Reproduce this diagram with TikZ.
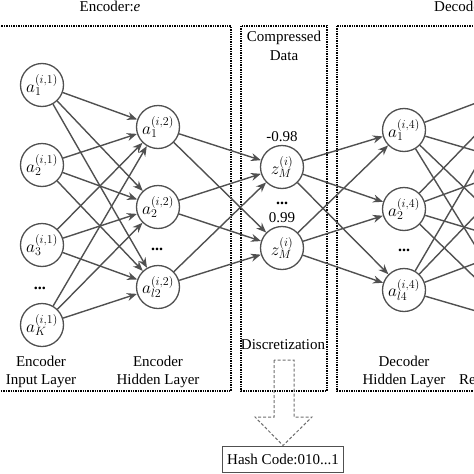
\documentclass[tikz,border=0pt]{standalone}
\usepackage{fontspec}
\setmainfont{Liberation Serif}
\usetikzlibrary{arrows.meta}
\definecolor{linegray}{RGB}{80,80,80}
\definecolor{arrowgray}{RGB}{110,110,110}
\begin{document}
\begin{tikzpicture}[x=1pt,y=-1pt,font=\fontsize{15}{18.5}\selectfont]
\useasboundingbox (0,0) rectangle (474,474);
\clip (0,0) rectangle (474,474);
% Pixel-like coordinates, y grows downwards. Output layer sits past the right edge.
\tikzset{
  unit/.style={circle,draw=linegray,fill=white,line width=1.3pt,minimum size=43pt,inner sep=0pt,font=\fontsize{17.5}{17.5}\selectfont},
  conn/.style={linegray,line width=1.4pt,-{Stealth[length=10pt,width=8pt]}},
  plain/.style={linegray,line width=1.4pt},
  part/.style={densely dotted,line width=1.4pt},
  lab/.style={align=center,inner sep=0pt},
  more/.style={font=\fontsize{16}{16}\bfseries\selectfont,inner sep=0pt}
}

% Part boxes and titles.
\draw[part] (-6,26) rectangle (231,391);
\draw[part] (241,26) rectangle (327,391);
\draw[part] (337,26) rectangle (580,391);
\node[lab] (enct) at (110,6) {Encoder:\textit{e}};
\node[lab,anchor=west] (dect) at (434,6) {Decoder:\textit{d}};
\node[lab] (cmpt) at (284,46) {Compressed\\Data};

% Units.
\foreach \k/\y/\s in {1/85/1,2/165/2,3/245/3,4/325/K}
  \node[unit] (in\k) at (42,\y) {$a_{\s}^{(i,1)}$};
\foreach \k/\y/\s in {1/127/1,2/207/2,3/287/l2}
  \node[unit] (eh\k) at (158,\y) {$a_{\s}^{(i,2)}$};
\foreach \k/\y in {1/167,2/248}
  \node[unit] (z\k) at (282,\y) {$z_{M}^{(i)}$};
\foreach \k/\y/\s in {1/130/1,2/209/2,3/290/l4}
  \node[unit] (dh\k) at (404,\y) {$a_{\s}^{(i,4)}$};
\foreach \k/\y in {1/85,2/165,3/245,4/325}
  \node[unit] (out\k) at (524,\y) {};

% Connections.
\foreach \i in {1,...,4}
  \foreach \j in {1,2,3}
    \draw[conn] (in\i) -- (eh\j);
\foreach \i in {1,2,3}
  \foreach \j in {1,2}
    \draw[conn] (eh\i) -- (z\j);
\foreach \i in {1,2}
  \foreach \j in {1,2,3}
    \draw[conn] (z\i) -- (dh\j);
\foreach \i in {1,2,3}
  \foreach \j in {1,...,4}
    \draw[plain] (dh\i) -- (out\j);

% Dots and code values.
\node[more] (ind) at (40,288) {...};
\node[more] (ehd) at (157,249) {...};
\node[more] (zd) at (282,203) {...};
\node[more] (dhd) at (404,250) {...};
\node[lab] (v1) at (282,137) {-0.98};
\node[lab] (v2) at (282,218) {0.99};

% Layer names.
\node[lab] (inl) at (41,372) {Encoder\\Input Layer};
\node[lab] (ehl) at (158,372) {Encoder\\Hidden Layer};
\node[lab] (dhl) at (404,372) {Decoder\\Hidden Layer};
\node[lab] (outl) at (524,372) {Decoder\\Reconstruction Layer};
\node[lab] (disc) at (283,345) {Discretization};

% Hash code output.
\node[draw=linegray,line width=1pt,minimum width=121pt,minimum height=26pt,inner sep=0pt] (hash) at (283,459) {Hash Code:010...1};
\draw[arrowgray,densely dashed,line width=1pt] (274,360) -- (274,417) -- (255,417)
  -- (hash.north) -- (312,417) -- (294,417) -- (294,360) -- cycle;
\end{tikzpicture}
\end{document}
